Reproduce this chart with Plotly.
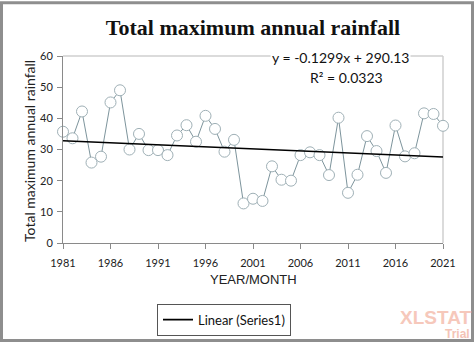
import plotly.graph_objects as go

# Annual maximum rainfall series, 1981-2021
years = list(range(1981, 2022))
rainfall = [35.7, 33.6, 42.2, 25.8, 27.7, 45.1, 49.0, 30.0, 35.0, 29.8,
            29.8, 28.2, 34.5, 37.8, 32.5, 40.8, 36.6, 29.3, 33.1, 12.7,
            14.2, 13.5, 24.6, 20.3, 20.0, 28.2, 29.1, 28.2, 21.8, 40.2,
            16.1, 21.9, 34.3, 29.5, 22.5, 37.7, 27.8, 28.8, 41.6, 41.4,
            37.6]

# Fitted linear trend as reported on the chart
slope = -0.1299
intercept = 290.13
r_squared = 0.0323

x_ticks = [1981, 1986, 1991, 1996, 2001, 2006, 2011, 2016, 2021]
y_ticks = [0, 10, 20, 30, 40, 50, 60]

trend_x = [years[0], years[-1]]
trend_y = [slope * x + intercept for x in trend_x]

W, H = 474, 348
ML, MR, MT, MB = 63, 31, 56, 101
PW, PH = W - ML - MR, H - MT - MB


def px_x(p):
    return (p - ML) / PW


def px_y(p):
    return (H - MB - p) / PH


body_font = "Lato"

fig = go.Figure()

fig.add_trace(go.Scatter(
    x=years, y=rainfall, mode="lines+markers",
    line=dict(color="#7d949c", width=1),
    marker=dict(symbol="circle", size=11, color="white",
                line=dict(color="#9fb0b6", width=1)),
    showlegend=False, cliponaxis=False,
))

fig.add_trace(go.Scatter(
    x=trend_x, y=trend_y, mode="lines",
    line=dict(color="black", width=1.6),
    name="Linear (Series1)", showlegend=True,
))

axis_common = dict(
    showgrid=False, zeroline=False, showline=True,
    linecolor="#8a8a8a", linewidth=1,
    ticks="outside", ticklen=5, tickcolor="#8a8a8a", tickwidth=1,
    tickfont=dict(family=body_font, size=11, color="#222"),
)

fig.update_xaxes(
    range=[1981, 2021], tickvals=x_ticks, ticktext=[str(t) for t in x_ticks],
    ticklabelstandoff=5, **axis_common,
)
fig.update_yaxes(
    range=[0, 60], tickvals=y_ticks, ticklabelstandoff=2, **axis_common,
)

shapes = [
    # top and right frame of the plot area
    dict(type="line", xref="paper", yref="paper", x0=0, x1=1, y0=1, y1=1,
         line=dict(color="#cfcfcf", width=1.5), layer="below"),
    dict(type="line", xref="paper", yref="paper", x0=1, x1=1, y0=0, y1=1,
         line=dict(color="#cfcfcf", width=1.5), layer="below"),
    # outer chart border
    dict(type="rect", xref="paper", yref="paper",
         x0=px_x(1.5), x1=px_x(W - 1.5), y0=px_y(H - 1.5), y1=px_y(1.5),
         line=dict(color="#8e8e8e", width=3)),
]

annotations = [
    # axis titles
    dict(text="YEAR/MONTH", xref="paper", yref="paper",
         x=0.5, y=px_y(284), xanchor="center", yanchor="middle",
         showarrow=False,
         font=dict(family="Liberation Sans", size=13, color="#222")),
    dict(text="Total maximum annual rainfall", xref="paper", yref="paper",
         x=px_x(30), y=px_y(153), xanchor="center", yanchor="middle",
         textangle=-90, showarrow=False,
         font=dict(family=body_font, size=14, color="#222")),
    # trendline equation
    dict(text=f"y = {slope}x + {intercept}", xref="paper", yref="paper",
         x=px_x(340), y=px_y(58), xanchor="center", yanchor="middle",
         showarrow=False, bgcolor="white",
         font=dict(family=body_font, size=14, color="#111")),
    dict(text=f"R² = {r_squared}", xref="paper", yref="paper",
         x=px_x(346), y=px_y(78), xanchor="center", yanchor="middle",
         showarrow=False,
         font=dict(family=body_font, size=14, color="#111")),
    # watermark
    dict(text="<b>XLSTAT</b>", xref="paper", yref="paper",
         x=px_x(473), y=px_y(323), xanchor="right", yanchor="middle",
         showarrow=False,
         font=dict(family="Liberation Sans", size=19, color="#f6c8bb")),
    dict(text="<b>Trial</b>", xref="paper", yref="paper",
         x=px_x(472), y=px_y(340), xanchor="right", yanchor="middle",
         showarrow=False,
         font=dict(family="Liberation Sans", size=12, color="#f4c4b6")),
]

fig.update_layout(
    width=W, height=H,
    margin=dict(l=ML, r=MR, t=MT, b=MB),
    paper_bgcolor="white", plot_bgcolor="white",
    title=dict(text="<b>Total maximum annual rainfall</b>",
               x=0.5, xref="paper", xanchor="center",
               y=1 - 27 / H, yanchor="middle",
               font=dict(family="Liberation Serif", size=22, color="#111")),
    legend=dict(x=px_x(157), y=px_y(309), xanchor="left", yanchor="top",
                orientation="h", bordercolor="#555", borderwidth=1,
                bgcolor="white",
                font=dict(family=body_font, size=13, color="#111")),
    shapes=shapes,
    annotations=annotations,
)

fig.write_html("out.html")
